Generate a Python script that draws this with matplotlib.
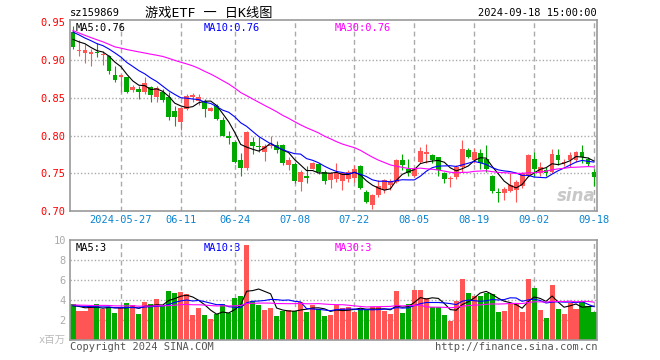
import numpy as np
import matplotlib
matplotlib.use("Agg")
import matplotlib.pyplot as plt

plt.rcParams['font.family'] = ['DejaVu Sans Mono', 'Noto Sans CJK SC']

# 日K数据 2024-05-15 ~ 2024-09-18
opens = [0.937, 0.912, 0.909, 0.908, 0.911, 0.906, 0.905, 0.880, 0.877, 0.877,
         0.860, 0.861, 0.857, 0.864, 0.851, 0.858, 0.851, 0.833, 0.818, 0.835,
         0.851, 0.846, 0.846, 0.833, 0.839, 0.820, 0.800, 0.791, 0.767, 0.757,
         0.792, 0.786, 0.778, 0.786, 0.788, 0.788, 0.761, 0.762, 0.739, 0.746,
         0.756, 0.762, 0.752, 0.741, 0.743, 0.740, 0.743, 0.744, 0.759, 0.725,
         0.708, 0.721, 0.728, 0.734, 0.739, 0.768, 0.755, 0.747, 0.765, 0.776,
         0.774, 0.771, 0.750, 0.742, 0.745, 0.758, 0.781, 0.767, 0.777, 0.769,
         0.747, 0.725, 0.724, 0.727, 0.728, 0.733, 0.747, 0.769, 0.750, 0.754,
         0.752, 0.774, 0.764, 0.768, 0.767, 0.778, 0.769, 0.752]
closes = [0.917, 0.913, 0.913, 0.910, 0.909, 0.908, 0.886, 0.873, 0.880, 0.858,
          0.864, 0.858, 0.870, 0.854, 0.863, 0.847, 0.825, 0.825, 0.836, 0.852,
          0.853, 0.851, 0.835, 0.837, 0.822, 0.800, 0.797, 0.765, 0.757, 0.804,
          0.786, 0.785, 0.786, 0.788, 0.781, 0.764, 0.768, 0.740, 0.752, 0.744,
          0.764, 0.752, 0.740, 0.750, 0.750, 0.750, 0.752, 0.755, 0.731, 0.712,
          0.721, 0.733, 0.741, 0.740, 0.768, 0.761, 0.750, 0.755, 0.780, 0.778,
          0.768, 0.754, 0.743, 0.743, 0.758, 0.782, 0.772, 0.778, 0.763, 0.755,
          0.727, 0.724, 0.729, 0.734, 0.739, 0.750, 0.774, 0.755, 0.758, 0.750,
          0.776, 0.768, 0.765, 0.774, 0.778, 0.772, 0.762, 0.745]
highs = [0.945, 0.926, 0.921, 0.915, 0.923, 0.912, 0.906, 0.892, 0.880, 0.878,
         0.867, 0.866, 0.877, 0.866, 0.866, 0.861, 0.857, 0.839, 0.837, 0.855,
         0.856, 0.855, 0.849, 0.838, 0.842, 0.824, 0.806, 0.793, 0.777, 0.806,
         0.798, 0.798, 0.789, 0.800, 0.793, 0.789, 0.772, 0.765, 0.754, 0.759,
         0.765, 0.764, 0.754, 0.752, 0.763, 0.752, 0.754, 0.761, 0.761, 0.728,
         0.723, 0.741, 0.742, 0.742, 0.769, 0.776, 0.769, 0.758, 0.785, 0.789,
         0.776, 0.772, 0.752, 0.747, 0.761, 0.794, 0.784, 0.784, 0.782, 0.787,
         0.748, 0.730, 0.732, 0.750, 0.741, 0.752, 0.776, 0.778, 0.765, 0.758,
         0.782, 0.782, 0.769, 0.778, 0.779, 0.787, 0.772, 0.755]
lows = [0.914, 0.905, 0.896, 0.892, 0.904, 0.894, 0.881, 0.871, 0.857, 0.856,
        0.857, 0.848, 0.855, 0.845, 0.845, 0.845, 0.820, 0.812, 0.807, 0.834,
        0.845, 0.841, 0.825, 0.832, 0.820, 0.799, 0.789, 0.763, 0.747, 0.754,
        0.776, 0.778, 0.766, 0.783, 0.777, 0.761, 0.754, 0.737, 0.727, 0.737,
        0.755, 0.749, 0.736, 0.730, 0.739, 0.728, 0.739, 0.739, 0.729, 0.711,
        0.702, 0.718, 0.724, 0.728, 0.737, 0.754, 0.746, 0.745, 0.763, 0.763,
        0.763, 0.747, 0.737, 0.732, 0.743, 0.752, 0.770, 0.764, 0.755, 0.752,
        0.724, 0.712, 0.714, 0.725, 0.712, 0.731, 0.746, 0.747, 0.747, 0.747,
        0.750, 0.761, 0.759, 0.758, 0.765, 0.764, 0.760, 0.733]
# 成交量 (百万)
volumes = [3.6, 2.9, 2.9, 3.4, 3.6, 3.1, 3.3, 2.7, 3.3, 3.7,
           3.5, 2.6, 3.8, 3.6, 4.1, 3.4, 4.9, 4.7, 4.8, 4.6,
           2.5, 3.2, 2.5, 2.1, 2.6, 3.6, 2.7, 4.2, 4.4, 9.5,
           3.9, 3.5, 3.0, 3.2, 2.4, 2.9, 3.0, 2.9, 3.8, 2.8,
           3.5, 3.1, 2.4, 2.5, 3.5, 3.2, 3.3, 2.8, 3.1, 3.0,
           3.3, 3.3, 2.9, 2.6, 4.9, 2.7, 3.6, 5.0, 5.0, 4.2,
           3.3, 3.3, 2.5, 1.9, 3.9, 6.1, 4.7, 4.4, 4.4, 4.7,
           4.6, 2.8, 2.9, 3.7, 3.7, 2.8, 6.1, 5.2, 3.0, 2.2,
           5.5, 3.1, 2.6, 3.7, 3.1, 3.9, 3.4, 2.8]
# 窗口之前的收盘价/成交量, 只用于均线
prior_closes = [1.010, 1.005, 1.000, 0.995, 0.990, 0.985, 0.975, 0.930, 0.915, 0.910,
                0.905, 0.915, 0.900, 0.905, 0.895, 0.900, 0.905, 0.910, 0.920, 0.930,
                0.950, 0.955, 0.945, 0.948, 0.935, 0.930, 0.925, 0.935, 0.930]
prior_volumes = [3.8, 3.2, 4.1, 3.5, 2.9, 3.6, 4.0, 3.3, 3.7, 3.1,
                 3.9, 3.4, 3.6, 3.0, 3.8, 4.2, 3.5, 3.3, 3.7, 3.6,
                 3.2, 3.5, 3.4, 3.9, 3.1, 3.3, 3.6, 3.2, 3.5]

date_labels = ["2024-05-27", "06-11", "06-24", "07-08", "07-22",
               "08-05", "08-19", "09-02", "09-18"]
date_pos = [8, 18, 27, 37, 47, 57, 67, 77, 87]
price_ticks = [0.70, 0.75, 0.80, 0.85, 0.90, 0.95]
vol_ticks = [2, 4, 6, 8, 10]

RED = '#ff5555'
GREEN = '#00a800'
GRID = '#aaaaaa'
BORDER = '#999999'
MA_COLORS = ['black', '#0000ff', '#ff00ff']


def moving_avg(prior, values, n):
    full = np.array(prior + values)
    ma = np.convolve(full, np.ones(n) / n, mode='valid')
    return ma[-len(values):]


W, H = 660, 360
fig = plt.figure(figsize=(W / 100, H / 100), dpi=100)


def px_axes(left, top, right, bottom):
    return fig.add_axes([left / W, 1 - bottom / H, (right - left) / W, (bottom - top) / H])


ax = px_axes(70, 20, 597, 211)
axv = px_axes(70, 240, 597, 340)

x = np.arange(len(closes))
o = np.array(opens)
c = np.array(closes)
colors = [RED if cc >= oo else GREEN for oo, cc in zip(opens, closes)]

for a in (ax, axv):
    for d in date_pos:
        a.axvline(d, color=GRID, lw=1, ls=(0, (3.5, 2.5)), zorder=0)
    for s in a.spines.values():
        s.set_color(BORDER)
        s.set_linewidth(1.2)
    a.set_xlim(-0.5, len(closes) - 0.5)
    a.tick_params(length=0, pad=3)

# K线
ax.vlines(x, lows, highs, colors=colors, lw=0.8, zorder=2)
body_h = np.maximum(np.abs(c - o), 0.0015)
ax.bar(x, body_h, bottom=np.minimum(o, c), width=0.8, color=colors, zorder=3)

for n, col in zip([5, 10, 30], MA_COLORS):
    ax.plot(x, moving_avg(prior_closes, closes, n), color=col, lw=0.8, zorder=4)

ax.set_ylim(0.70, 0.953)
ax.set_yticks(price_ticks)
ax.set_yticklabels(['%.2f' % t for t in price_ticks], color='red', fontsize=7.5)
for t in price_ticks[1:-1]:
    ax.axhline(t, color=GRID, lw=1, ls=(0, (1, 1.5)), zorder=0)
ax.set_xticks(date_pos)
ax.set_xticklabels(date_labels, color='#0a84d0', fontsize=7.5)

ax.text(0.01, 0.985, 'MA5:0.76', transform=ax.transAxes, fontsize=7.5, color='black', va='top')
ax.text(0.254, 0.985, 'MA10:0.76', transform=ax.transAxes, fontsize=7.5, color='#0000ff', va='top')
ax.text(0.503, 0.985, 'MA30:0.76', transform=ax.transAxes, fontsize=7.5, color='#ff00ff', va='top')
ax.text(0.998, 0.03, 'sina', transform=ax.transAxes, fontsize=12, color='#c8c8c8',
        ha='right', va='bottom', fontweight='bold', style='italic', family='DejaVu Sans',
        zorder=1)

# 成交量
axv.bar(x, volumes, width=0.85, color=colors, zorder=2)
for n, col in zip([5, 10, 30], MA_COLORS):
    axv.plot(x, moving_avg(prior_volumes, volumes, n), color=col, lw=0.8, zorder=4)
axv.set_ylim(0, 10)
axv.set_yticks(vol_ticks)
axv.set_yticklabels([str(t) for t in vol_ticks], color='#aaaaaa', fontsize=7.5)
for t in vol_ticks[:-1]:
    axv.axhline(t, color=GRID, lw=1, ls=(0, (1, 1.5)), zorder=0)
axv.set_xticks([])
axv.text(0.01, 0.97, 'MA5:3', transform=axv.transAxes, fontsize=7.5, color='black', va='top')
axv.text(0.254, 0.97, 'MA10:3', transform=axv.transAxes, fontsize=7.5, color='#0000ff', va='top')
axv.text(0.503, 0.97, 'MA30:3', transform=axv.transAxes, fontsize=7.5, color='#ff00ff', va='top')

# 标题和页脚
fig.text(70 / W, 1 - 13 / H, 'sz159869', fontsize=7.5, va='center')
fig.text(209 / W, 1 - 13 / H, '游戏ETF 一 日K线图', fontsize=9.5, va='center', ha='center')
fig.text(597 / W, 1 - 13 / H, '2024-09-18 15:00:00', fontsize=7.5, va='center', ha='right')
fig.text(66 / W, 1 - 340 / H, 'x百万', fontsize=7.5, va='center', ha='right', color='#bbbbbb')
fig.text(70 / W, 1 - 347 / H, 'Copyright 2024 SINA.COM', fontsize=7.5, va='center', color='#555555')
fig.text(597 / W, 1 - 347 / H, 'http://finance.sina.com.cn', fontsize=7.5, va='center',
         ha='right', color='#555555')

fig.savefig('out.png', dpi=100)
